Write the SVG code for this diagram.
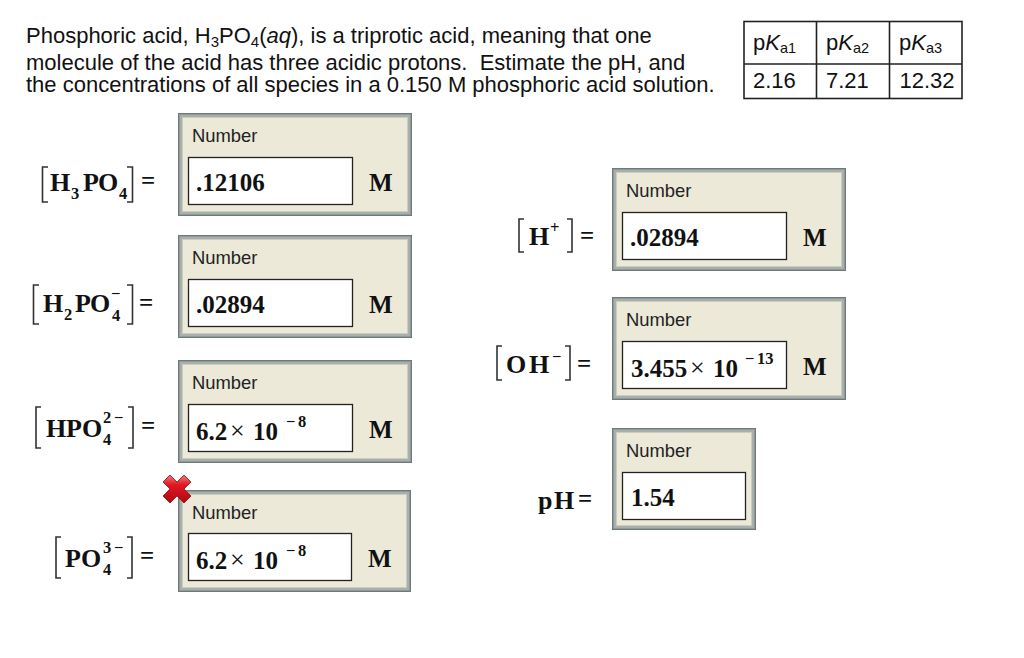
<svg xmlns="http://www.w3.org/2000/svg" width="1024" height="658" viewBox="0 0 1024 658">
<defs>
<linearGradient id="red" x1="0" y1="0" x2="0" y2="1"><stop offset="0" stop-color="#f07a80"/><stop offset="0.35" stop-color="#e01822"/><stop offset="1" stop-color="#b00812"/></linearGradient>
</defs>
<style>
text{font-family:"Liberation Sans",Arial,sans-serif;fill:#111}
.q{font-size:22px;white-space:pre}
.t{font-size:22px}
.sub{font-size:14.5px}
.qs{font-size:15px}
.n{font-size:18.4px;fill:#222}
.v,.m,.c,.sm,.e,.x{font-family:"Liberation Serif","Times New Roman",serif;fill:#111}
.v,.m{font-size:25px;font-weight:bold}
.c{font-size:26px;font-weight:bold}
.sm{font-size:16.500px;font-weight:bold}
.e{font-size:25px;font-weight:bold}
.x{font-size:26px}
.br{fill:none;stroke:#333;stroke-width:1.6}
.l1{fill:#6f7a78}.l2{fill:#8f9a98}.l3{fill:#a9b0ac}.l4{fill:#c9ccc0}.f{fill:#ece9d9}
.i{fill:#fff;stroke:#222;stroke-width:1.3}
.g{fill:none;stroke:#222;stroke-width:1.6}
</style>
<g id="question">
<text class="q" x="26" y="43">Phosphoric acid, H<tspan class="qs" dy="4">3</tspan><tspan dy="-4">PO</tspan><tspan class="qs" dy="4">4</tspan><tspan dy="-4">(</tspan><tspan font-style="italic">aq</tspan>), is a triprotic acid, meaning that one</text>
<text class="q" x="26" y="70">molecule of the acid has three acidic protons.  Estimate the pH, and</text>
<text class="q" x="26" y="92">the concentrations of all species in a 0.150 M phosphoric acid solution.</text>
</g>
<g id="pka-table">
<rect class="g" x="744" y="21.500" width="218" height="77"/>
<path class="g" d="M744 64H962M816.500 21V99M889.500 21V99"/>
<text class="t" x="753" y="50">p<tspan font-style="italic">K</tspan><tspan class="sub" dy="3">a1</tspan></text>
<text class="t" x="826" y="50">p<tspan font-style="italic">K</tspan><tspan class="sub" dy="3">a2</tspan></text>
<text class="t" x="899" y="50">p<tspan font-style="italic">K</tspan><tspan class="sub" dy="3">a3</tspan></text>
<text class="t" x="753" y="88">2.16</text>
<text class="t" x="826" y="88">7.21</text>
<text class="t" x="899.500" y="88">12.32</text>
</g>
<g id="h3po4">
<path class="br" d="M48 167H42.500V202H48M127 167H132.500V202H127"/>
<text class="c" x="50" y="191">H</text><text class="sm" x="71" y="199">3</text><text class="c" x="83" y="191">P</text><text class="c" x="98" y="191">O</text><text class="sm" x="119" y="199">4</text>
<text class="e" x="141" y="189">=</text>
<rect class="l1" x="178" y="113" width="234" height="103"/><rect class="l2" x="179" y="114" width="232" height="101"/><rect class="l3" x="180" y="115" width="230" height="99"/><rect class="l4" x="182" y="117" width="226" height="95"/><rect class="f" x="183" y="118" width="224" height="93"/>
<rect class="i" x="188.500" y="157.500" width="164" height="47"/>
<text class="n" x="192" y="142">Number</text>
<text class="v" x="196" y="190.500">.12106</text>
<text class="m" x="369" y="190.500">M</text>
</g>
<g id="h2po4">
<path class="br" d="M39 285H33.500V324H39M127 285H132.500V324H127"/>
<text class="c" x="43" y="312">H</text><text class="sm" x="64" y="320">2</text><text class="c" x="75" y="312">P</text><text class="c" x="90" y="312">O</text><text class="sm" x="112" y="321">4</text><text class="sm" x="111" y="299">−</text>
<text class="e" x="139" y="311">=</text>
<rect class="l1" x="178" y="235" width="234" height="103"/><rect class="l2" x="179" y="236" width="232" height="101"/><rect class="l3" x="180" y="237" width="230" height="99"/><rect class="l4" x="182" y="239" width="226" height="95"/><rect class="f" x="183" y="240" width="224" height="93"/>
<rect class="i" x="188.500" y="279.500" width="164" height="47"/>
<text class="n" x="192" y="264">Number</text>
<text class="v" x="196" y="312.500">.02894</text>
<text class="m" x="369" y="312.500">M</text>
</g>
<g id="hpo4">
<path class="br" d="M41 407H36V448H41M128 407H133V448H128"/>
<text class="c" x="46" y="437">H</text><text class="c" x="66" y="437">P</text><text class="c" x="82" y="437">O</text><text class="sm" x="103" y="445">4</text><text class="sm" x="103" y="423">2</text><text class="sm" x="114" y="423">−</text>
<text class="e" x="141" y="434">=</text>
<rect class="l1" x="178" y="360" width="234" height="103"/><rect class="l2" x="179" y="361" width="232" height="101"/><rect class="l3" x="180" y="362" width="230" height="99"/><rect class="l4" x="182" y="364" width="226" height="95"/><rect class="f" x="183" y="365" width="224" height="93"/>
<rect class="i" x="188.500" y="404.500" width="164" height="47"/>
<text class="n" x="192" y="389">Number</text>
<text class="v" x="196" y="439.500">6.2</text><text class="x" x="230" y="439">×</text><text class="v" x="253" y="439.500">10</text>
<text class="sm" x="286" y="427">−</text><text class="sm" x="298" y="427">8</text>
<text class="m" x="369" y="437.500">M</text>
</g>
<g id="po4">
<path class="br" d="M61 537H56V578H61M127 537H132V578H127"/>
<text class="c" x="65" y="567">P</text><text class="c" x="81" y="567">O</text><text class="sm" x="103" y="575">4</text><text class="sm" x="103" y="553">3</text><text class="sm" x="114" y="553">−</text>
<text class="e" x="140" y="564">=</text>
<rect class="l1" x="178" y="490" width="233" height="102"/><rect class="l2" x="179" y="491" width="231" height="100"/><rect class="l3" x="180" y="492" width="229" height="98"/><rect class="l4" x="182" y="494" width="225" height="94"/><rect class="f" x="183" y="495" width="223" height="92"/>
<rect class="i" x="188.500" y="533.500" width="163" height="47"/>
<text class="n" x="192" y="519">Number</text>
<text class="v" x="196" y="568.500">6.2</text><text class="x" x="230" y="568">×</text><text class="v" x="253" y="568.500">10</text>
<text class="sm" x="286" y="556">−</text><text class="sm" x="298" y="556">8</text>
<text class="m" x="368" y="566.500">M</text>
<g id="wrong-mark">
<path d="M170 475L177 482L184 475L191 482L184 489L191 496L184 503L177 496L170 503L163 496L170 489L163 482Z" fill="url(#red)" stroke="#8f1015" stroke-width="0.8"/>
</g>
</g>
<g id="h-plus">
<path class="br" d="M524 219H519V252H524M567 219H572V252H567"/>
<text class="c" x="529" y="245">H</text>
<text class="sm" x="550" y="233">+</text>
<text class="e" x="580" y="244">=</text>
<rect class="l1" x="612" y="168" width="234" height="103"/><rect class="l2" x="613" y="169" width="232" height="101"/><rect class="l3" x="614" y="170" width="230" height="99"/><rect class="l4" x="616" y="172" width="226" height="95"/><rect class="f" x="617" y="173" width="224" height="93"/>
<rect class="i" x="622.500" y="212.500" width="164" height="47"/>
<text class="n" x="626" y="197">Number</text>
<text class="v" x="630" y="245.500">.02894</text>
<text class="m" x="803" y="245.500">M</text>
</g>
<g id="oh-minus">
<path class="br" d="M502 346H497V380H502M565 346H570V380H565"/>
<text class="c" x="506" y="373">O</text><text class="c" x="529" y="373">H</text>
<text class="sm" x="552" y="362">−</text>
<text class="e" x="577" y="372">=</text>
<rect class="l1" x="612" y="297" width="234" height="103"/><rect class="l2" x="613" y="298" width="232" height="101"/><rect class="l3" x="614" y="299" width="230" height="99"/><rect class="l4" x="616" y="301" width="226" height="95"/><rect class="f" x="617" y="302" width="224" height="93"/>
<rect class="i" x="622.500" y="341.500" width="164" height="47"/>
<text class="n" x="626" y="326">Number</text>
<text class="v" x="631" y="376.500">3.455</text><text class="x" x="690" y="376">×</text><text class="v" x="713" y="376.500">10</text>
<text class="sm" x="745" y="364">−</text><text class="sm" x="757" y="364">13</text>
<text class="m" x="803" y="374.500">M</text>
</g>
<g id="ph">
<text class="c" x="538" y="509">p</text><text class="c" x="554" y="509">H</text>
<text class="e" x="578" y="507">=</text>
<rect class="l1" x="612" y="428" width="144" height="102"/><rect class="l2" x="613" y="429" width="142" height="100"/><rect class="l3" x="614" y="430" width="140" height="98"/><rect class="l4" x="616" y="432" width="136" height="94"/><rect class="f" x="617" y="433" width="134" height="92"/>
<rect class="i" x="622.500" y="472.500" width="123" height="47"/>
<text class="n" x="626" y="457">Number</text>
<text class="v" x="631" y="505.500">1.54</text>
</g>
</svg>
